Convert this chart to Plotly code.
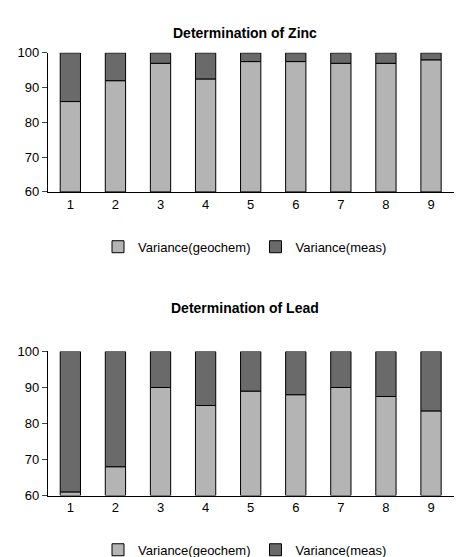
import plotly.graph_objects as go
from plotly.subplots import make_subplots

samples = ["1", "2", "3", "4", "5", "6", "7", "8", "9"]
zinc_geochem = [86, 92, 97, 92.5, 97.5, 97.5, 97, 97, 98]
lead_geochem = [61, 68, 90, 85, 89, 88, 90, 87.5, 83.5]
axis_min, axis_max = 60, 100
c_geo, c_meas = "#b4b4b4", "#6a6a6a"

fig = make_subplots(rows=2, cols=1, vertical_spacing=0.3)

def add(geo, row, legend):
    meas = [axis_max - g for g in geo]
    fig.add_trace(go.Bar(x=samples, y=[g - axis_min for g in geo], base=axis_min,
                         name="Variance(geochem)", marker=dict(color=c_geo, line=dict(color="black", width=1)),
                         width=0.45, legend=legend), row=row, col=1)
    fig.add_trace(go.Bar(x=samples, y=meas, base=geo,
                         name="Variance(meas)", marker=dict(color=c_meas, line=dict(color="black", width=1)),
                         width=0.45, legend=legend), row=row, col=1)

add(zinc_geochem, 1, "legend")
add(lead_geochem, 2, "legend2")

for r in (1, 2):
    fig.update_yaxes(range=[axis_min, axis_max], dtick=10, showgrid=False, showline=True,
                     linecolor="black", ticks="outside", automargin=False, row=r, col=1)
    fig.update_xaxes(showline=True, linecolor="black", ticks="", automargin=False, row=r, col=1)

fig.update_layout(
    width=474, height=557, barmode="overlay", plot_bgcolor="white", paper_bgcolor="white",
    font=dict(family="Liberation Sans, Arial", size=13, color="black"),
    margin=dict(l=0, r=0, t=0, b=0),
    xaxis=dict(domain=[0.084, 0.94]), xaxis2=dict(domain=[0.084, 0.94]),
    yaxis=dict(domain=[0.668, 0.919]), yaxis2=dict(domain=[0.12, 0.38]),
    legend=dict(orientation="h", x=0.5, xanchor="center", y=0.569, yanchor="middle",
                font=dict(size=13)),
    legend2=dict(orientation="h", x=0.5, xanchor="center", y=0.022, yanchor="middle",
                 font=dict(size=13)),
    annotations=[
        dict(text="<b>Determination of Zinc</b>", x=0.5, y=0.973, xref="paper", yref="paper",
             showarrow=False, font=dict(size=14)),
        dict(text="<b>Determination of Lead</b>", x=0.5, y=0.458, xref="paper", yref="paper",
             showarrow=False, font=dict(size=14)),
    ],
)
fig.write_html("out.html")
